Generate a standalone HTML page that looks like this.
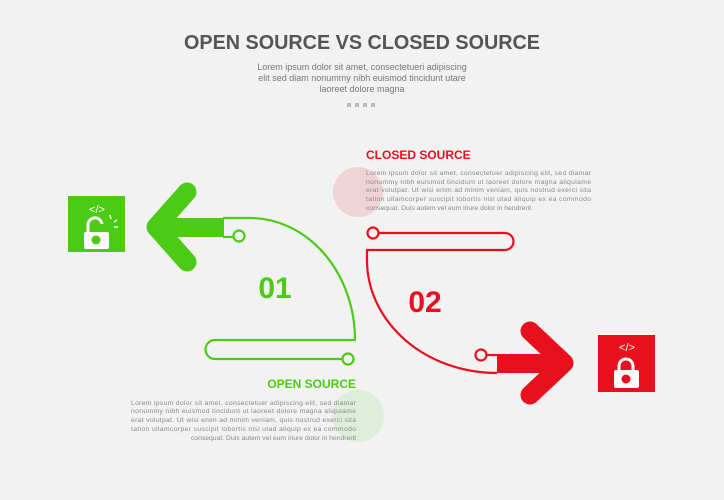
<!DOCTYPE html><html><head><style>
body{margin:0;background:#f2f2f2;}
svg{display:block;font-family:"Liberation Sans",sans-serif}
</style></head><body>
<svg width="724" height="500" viewBox="0 0 724 500">
<rect width="724" height="500" fill="#f2f2f2"/>
<text x="362" y="49" text-anchor="middle" font-size="20" font-weight="bold" fill="#555" textLength="356" lengthAdjust="spacingAndGlyphs">OPEN SOURCE VS CLOSED SOURCE</text>
<g font-size="9" fill="#777" text-anchor="middle">
<text x="362" y="70">Lorem ipsum dolor sit amet, consectetueri adipiscing</text>
<text x="362" y="81">elit sed diam nonummy nibh euismod tincidunt utare</text>
<text x="362" y="92">laoreet dolore magna</text></g>
<g fill="#bbb"><rect x="347" y="103" width="4" height="4"/><rect x="355" y="103" width="4" height="4"/><rect x="363" y="103" width="4" height="4"/><rect x="371" y="103" width="4" height="4"/></g>
<circle cx="358" cy="192" r="25" fill="#f0d3d5"/>
<circle cx="358" cy="416" r="26" fill="#dfeeda"/>
<text x="366" y="159" font-size="12" font-weight="bold" fill="#e8101c">CLOSED SOURCE</text>
<g font-size="6.8" fill="#8a8a8a">
<text x="366" y="175" textLength="225">Lorem ipsum dolor sit amet, consectetuer adipiscing elit, sed diamar</text>
<text x="366" y="184" textLength="225">nonummy nibh euismod tincidunt ut laoreet dolore magna aliquiame</text>
<text x="366" y="192" textLength="225">erat volutpat. Ut wisi enim ad minim veniam, quis nostrud exerci sita</text>
<text x="366" y="201" textLength="225">tation ullamcorper suscipit lobortis nisl utad aliquip ex ea commodo</text>
<text x="366" y="210">consequat. Duis autem vel eum iriure dolor in hendrerit</text></g>
<text x="356" y="388" font-size="12" font-weight="bold" fill="#4ccb14" text-anchor="end">OPEN SOURCE</text>
<g font-size="6.8" fill="#8a8a8a" text-anchor="end">
<text x="356" y="405" textLength="225">Lorem ipsum dolor sit amet, consectetuer adipiscing elit, sed diamar</text>
<text x="356" y="413" textLength="225">nonummy nibh euismod tincidunt ut laoreet dolore magna aliquiame</text>
<text x="356" y="422" textLength="225">erat volutpat. Ut wisi enim ad minim veniam, quis nostrud exerci sita</text>
<text x="356" y="431" textLength="225">tation ullamcorper suscipit lobortis nisl utad aliquip ex ea commodo</text>
<text x="356" y="440">consequat. Duis autem vel eum iriure dolor in hendrerit</text></g>
<!-- green -->
<g stroke="#4ccb14" fill="none" stroke-width="2.2">
<path d="M223 218 H250 A105 122 0 0 1 355 340 H215 A9.5 9.5 0 0 0 215 359 H342"/>
<path d="M223 237 H233"/>
<circle cx="239" cy="236" r="5.5" fill="#f2f2f2"/>
<circle cx="348" cy="359" r="5.5" fill="#f2f2f2"/>
</g>
<rect x="190" y="218" width="34" height="19" fill="#4ccb14"/>
<path d="M187 192 L156 227 L187 262" stroke="#4ccb14" stroke-width="19" fill="none" stroke-linecap="round" stroke-linejoin="round"/>
<rect x="160" y="218" width="40" height="19" fill="#4ccb14"/>
<text x="275" y="298" font-size="30" font-weight="bold" fill="#4ccb14" text-anchor="middle">01</text>
<!-- red -->
<g stroke="#e8101c" fill="none" stroke-width="2.2">
<path d="M379 233 H505 A8.5 8.5 0 0 1 505 250 H367 V260 A130 113 0 0 0 497 373"/>
<path d="M487 355 H497"/>
<circle cx="373" cy="233" r="5.5" fill="#f2f2f2"/>
<circle cx="481" cy="355" r="5.5" fill="#f2f2f2"/>
</g>
<rect x="497" y="354" width="62" height="19" fill="#e8101c"/>
<path d="M530 331 L564 363 L530 395" stroke="#e8101c" stroke-width="19" fill="none" stroke-linecap="round" stroke-linejoin="round"/>
<text x="425" y="312" font-size="30" font-weight="bold" fill="#e8101c" text-anchor="middle">02</text>
<!-- icons -->
<rect x="68" y="196" width="57" height="56" fill="#4ccb14"/>
<text x="97" y="213" font-size="11" fill="#fff" text-anchor="middle">&lt;/&gt;</text>
<path d="M88 233 V226 A7 7 0 0 1 102 224" stroke="#fff" stroke-width="3" fill="none"/>
<rect x="84" y="232" width="25" height="17" rx="2" fill="#fff"/>
<circle cx="96" cy="240" r="4.5" fill="#4ccb14"/>
<g stroke="#fff" stroke-width="1.5"><path d="M110 215 L111 219"/><path d="M114 222 L117 220"/><path d="M114 227 L118 227"/></g>
<rect x="598" y="335" width="57" height="57" fill="#e8101c"/>
<text x="627" y="351" font-size="11" fill="#fff" text-anchor="middle">&lt;/&gt;</text>
<path d="M619 372 V366 A7 7 0 0 1 633 366 V372" stroke="#fff" stroke-width="3" fill="none"/>
<rect x="614" y="370" width="25" height="18" rx="2" fill="#fff"/>
<circle cx="626" cy="379" r="4.5" fill="#e8101c"/>
</svg>
</body></html>
